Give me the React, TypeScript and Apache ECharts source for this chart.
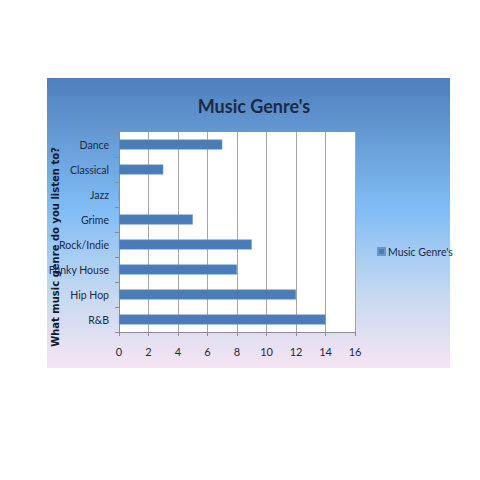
import React, { useEffect, useRef } from "react";
import * as echarts from "echarts";

const categories = ["Dance", "Classical", "Jazz", "Grime", "Rock/Indie", "Funky House", "Hip Hop", "R&B"];
const values = [7, 3, 0, 5, 9, 8, 12, 14];
const seriesName = "Music Genre's";
const titleText = "Music Genre's";
const yAxisTitle = "What music genre do you listen to?";

const FONT = "Lato, 'Noto Sans', sans-serif";
const TEXT = "#1c2a45";

export default function App() {
  const ref = useRef<HTMLDivElement>(null);
  useEffect(() => {
    document.body.style.margin = "0";
    const chart = echarts.init(ref.current!, null, { renderer: "svg" });
    chart.setOption({
      animation: false,
      backgroundColor: "#ffffff",
      graphic: [
        {
          type: "rect",
          z: -10,
          silent: true,
          shape: { x: 47, y: 78, width: 403, height: 290 },
          style: {
            fill: new echarts.graphic.LinearGradient(0, 0, 0, 1, [
              { offset: 0, color: "#4f7fbc" },
              { offset: 0.45, color: "#80bcf4" },
              { offset: 0.75, color: "#c6d9f0" },
              { offset: 1, color: "#f6e4f3" },
            ]),
          },
        },
        {
          type: "text",
          x: 55,
          y: 247,
          rotation: Math.PI / 2,
          style: {
            text: yAxisTitle,
            font: "bold 10px 'DejaVu Sans', sans-serif",
            fill: "#111a2e",
            align: "center",
            verticalAlign: "middle",
          },
        },
      ],
      title: {
        text: titleText,
        left: 249,
        textAlign: "center",
        top: 92,
        textStyle: { fontFamily: FONT, fontSize: 18, fontWeight: "bold", color: TEXT },
      },
      legend: {
        data: [seriesName],
        left: 372,
        top: 241,
        icon: "rect",
        itemWidth: 7,
        itemHeight: 7,
        itemGap: 4,
        textStyle: { fontFamily: FONT, fontSize: 10.5, color: TEXT, padding: [0, 0, 0, -2] },
      },
      grid: {
        left: 119,
        right: 125,
        top: 132,
        bottom: 148,
        show: true,
        backgroundColor: "#ffffff",
        borderWidth: 0,
        containLabel: false,
      },
      xAxis: {
        type: "value",
        min: 0,
        max: 16,
        interval: 2,
        axisLine: { show: true, lineStyle: { color: "#8c8c8c" } },
        axisTick: { show: true, length: 4, lineStyle: { color: "#8c8c8c" } },
        axisLabel: { fontFamily: FONT, fontSize: 11, color: TEXT, margin: 14 },
        splitLine: { show: true, lineStyle: { color: "#a6a6a6", width: 1 } },
      },
      yAxis: {
        type: "category",
        data: categories,
        inverse: true,
        axisLine: { show: true, lineStyle: { color: "#8c8c8c" } },
        axisTick: { show: true, length: 4, lineStyle: { color: "#8c8c8c" } },
        axisLabel: { fontFamily: FONT, fontSize: 10.5, color: TEXT, margin: 10 },
        splitLine: { show: false },
      },
      series: [
        {
          name: seriesName,
          type: "bar",
          data: values,
          barWidth: "40%",
          itemStyle: { color: "#4a7cb8", borderColor: "#6a96cc", borderWidth: 0.5 },
        },
      ],
    });
    return () => chart.dispose();
  }, []);
  return <div ref={ref} style={{ width: 480, height: 480 }} />;
}
